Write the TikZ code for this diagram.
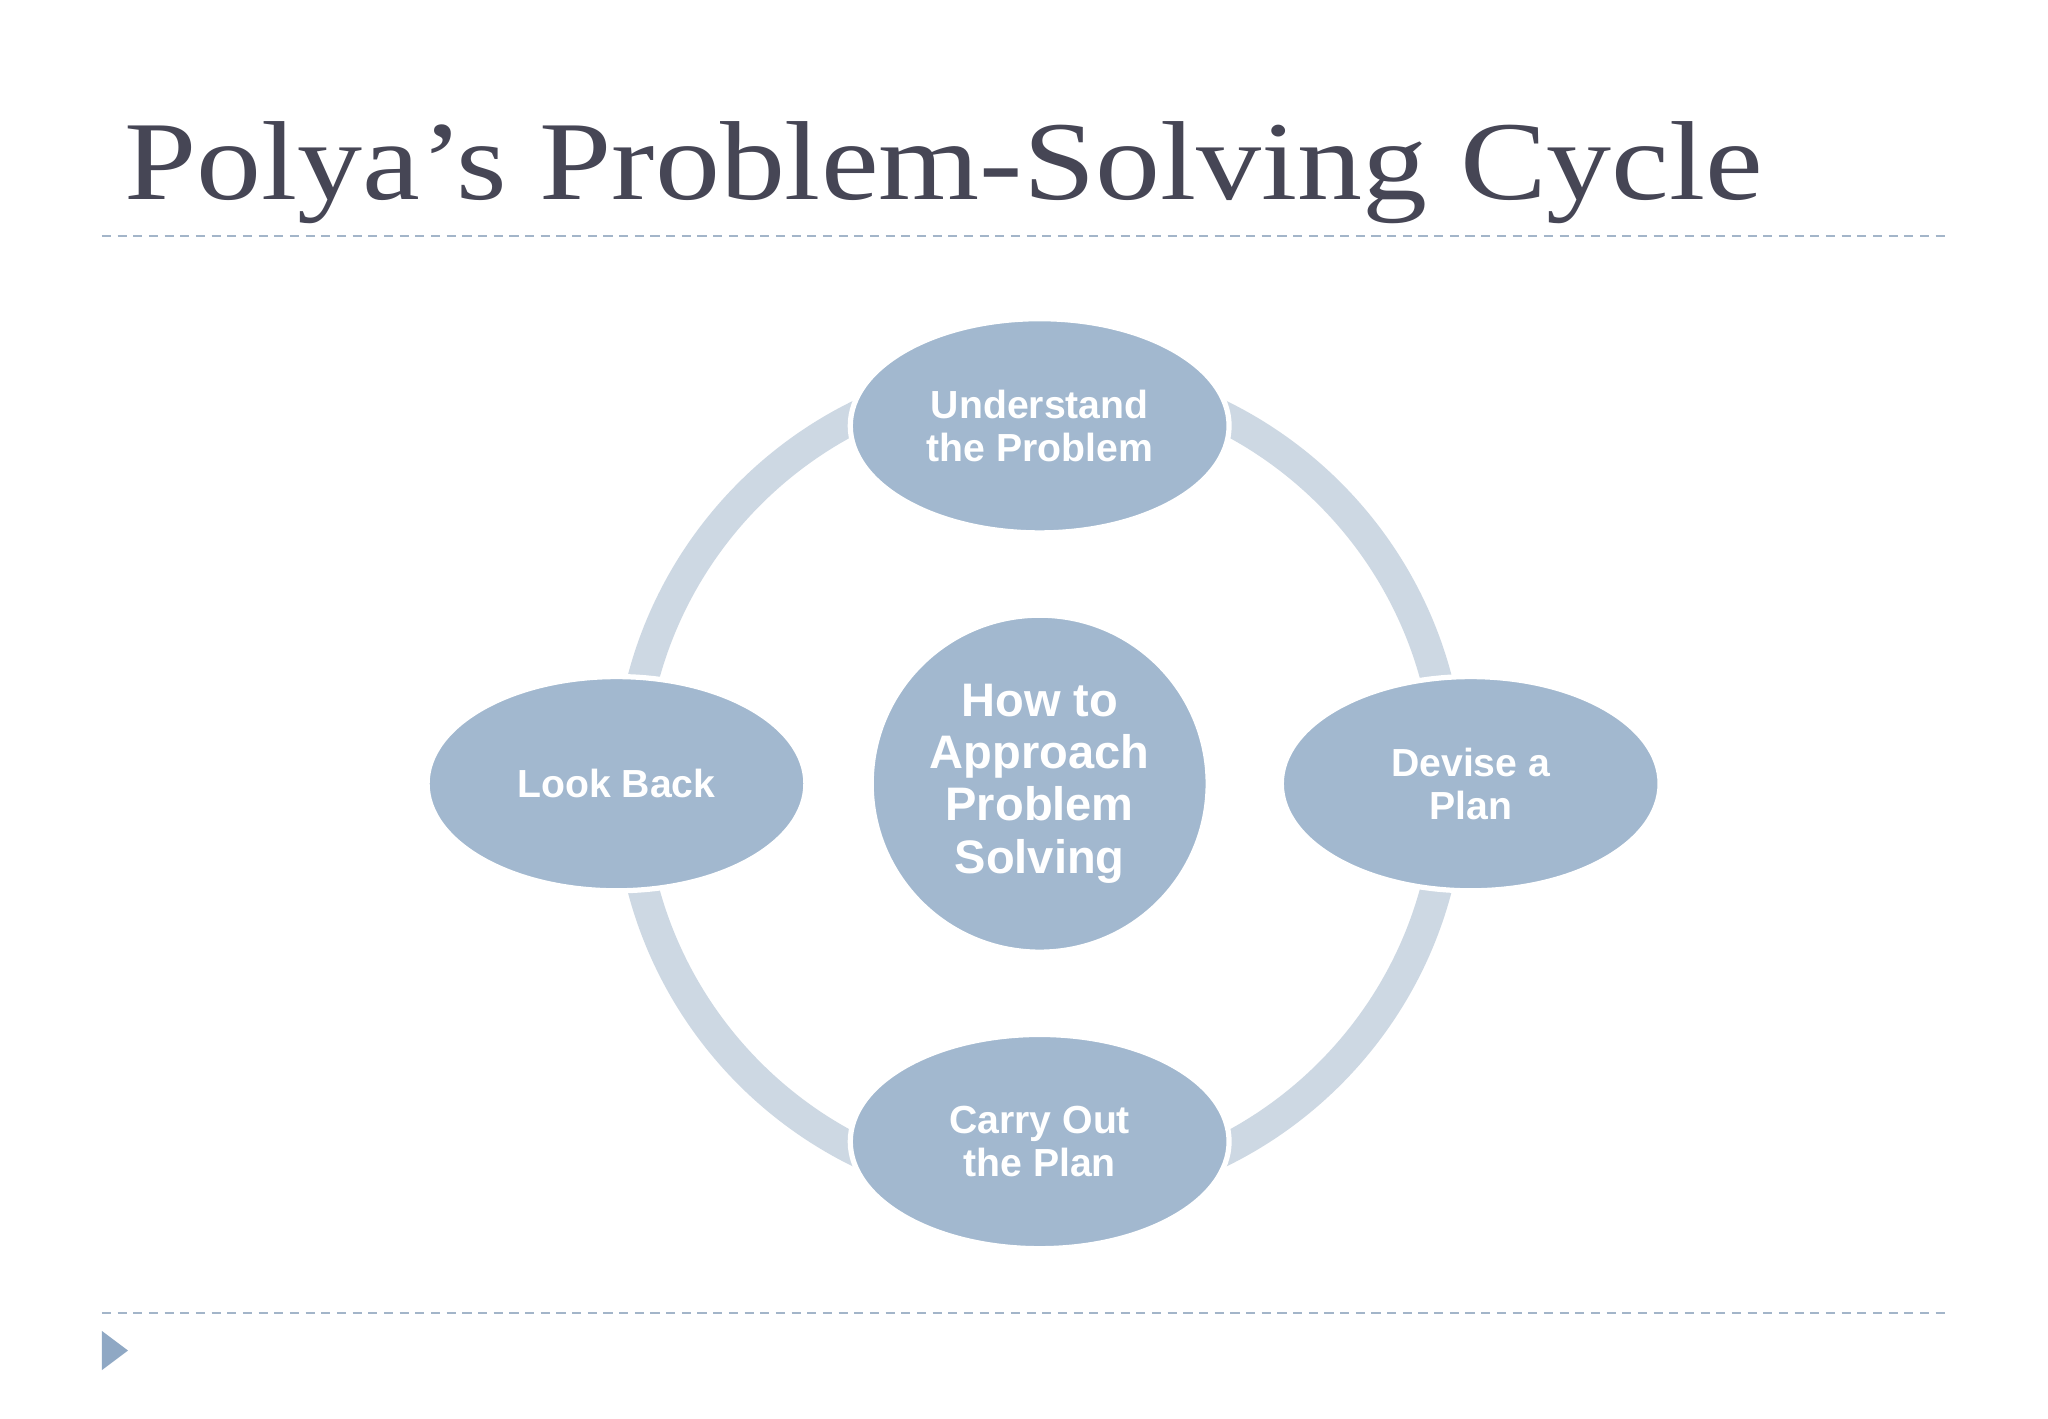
\documentclass[tikz,border=0pt]{standalone}
\usepackage{fontspec}
\setmainfont{Liberation Serif}
\newfontfamily\lsans{Liberation Sans}
\usetikzlibrary{shapes.geometric}
\definecolor{titlec}{HTML}{464655}
\definecolor{dashc}{HTML}{A3B5C9}
\definecolor{nodec}{HTML}{A2B8CF}
\definecolor{ringc}{HTML}{CDD8E3}
\definecolor{tric}{HTML}{8FA8C4}
\begin{document}
\begin{tikzpicture}[x=1pt,y=-1pt,
  stage/.style={ellipse,fill=nodec,draw=white,line width=4pt,minimum width=290pt,minimum height=164pt,inner sep=0pt,text=white,font=\lsans\bfseries\fontsize{30}{33}\selectfont,align=center},
  hub/.style={circle,fill=nodec,draw=white,line width=4pt,minimum size=258pt,inner sep=0pt,text=white,font=\lsans\bfseries\fontsize{36}{40}\selectfont,align=center},
  sep/.style={dashc,dashed,line width=1.5pt,dash pattern=on 7pt off 5pt}]
\useasboundingbox (0,0) rectangle (1568,1086);
\fill[white] (0,0) rectangle (1568,1086);
\node[anchor=base west,text=titlec,font=\fontsize{86}{90}\selectfont,inner sep=0pt,xscale=1.157] (title) at (95,153) {Polya’s Problem-Solving Cycle};
\coordinate (l1a) at (78,181); \coordinate (l1b) at (1490,181);
\coordinate (l2a) at (78,1005); \coordinate (l2b) at (1490,1005);
\draw[sep] (l1a) -- (l1b);
\draw[sep] (l2a) -- (l2b);
\fill[tric] (78,1019) -- (98,1034) -- (78,1049) -- cycle;
\coordinate (c) at (796,600);
\draw[ringc,line width=24pt] (c) circle[radius=314];
\node[hub] (h) at (c) {How to\\Approach\\Problem\\Solving};
\node[stage] (u) at (796,326) {Understand\\the Problem};
\node[stage] (d) at (1126,600) {Devise a\\Plan};
\node[stage] (o) at (796,874) {Carry Out\\the Plan};
\node[stage] (b) at (472,600) {Look Back};
\end{tikzpicture}
\end{document}
